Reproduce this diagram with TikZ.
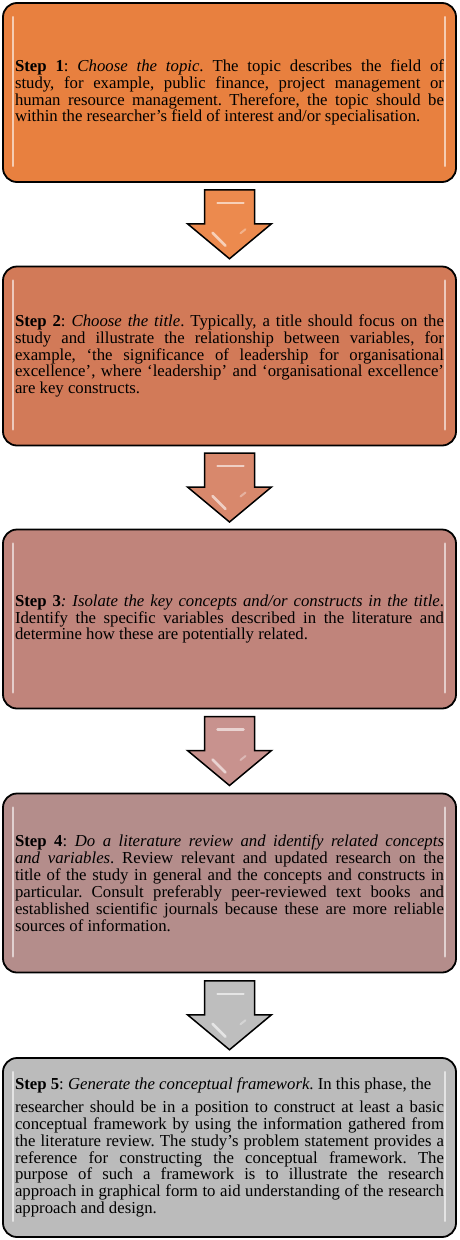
\documentclass[tikz,border=0pt]{standalone}
\usepackage{fontspec}
\setmainfont{Liberation Serif}
\usetikzlibrary{calc}
\definecolor{box1}{HTML}{E8803F}
\definecolor{box2}{HTML}{D27A58}
\definecolor{box3}{HTML}{C0847B}
\definecolor{box4}{HTML}{B48D8B}
\definecolor{box5}{HTML}{BBBBBB}
\definecolor{arr1}{HTML}{EC8A4E}
\definecolor{arr2}{HTML}{D8886C}
\definecolor{arr3}{HTML}{C8928E}
\definecolor{arr4}{HTML}{BEBEBE}
\newcommand\mystepfont{\fontsize{16.75}{16.9}\selectfont\frenchspacing
  \hyphenpenalty=10000 \exhyphenpenalty=10000 \tolerance=10000 \emergencystretch=20pt }
\tikzset{
  stepbox/.style={draw=black, line width=1.8pt, rounded corners=14pt,
    minimum width=453pt, minimum height=179pt, text width=429pt,
    align=justify, inner sep=0pt, font=\mystepfont},
  gloss/.style={white, opacity=0.6, line width=2.5pt, line cap=round},
  bigarrow/.pic={
    \draw[line width=1.5pt, fill=#1, line join=miter]
      (-25,-34.5) -- (25,-34.5) -- (25,-0.5) -- (42,-0.5) -- (0,34.5)
      -- (-42,-0.5) -- (-25,-0.5) -- cycle;
    \draw[white, opacity=0.6, line width=2.5pt, line cap=round] (-12,-21.5) -- (14,-21.5);
    \draw[white, opacity=0.6, line width=2.5pt, line cap=round] (-17,8.5) -- (-4,21.5);
    \draw[white, opacity=0.35, line width=2pt, line cap=round] (11,9) -- (16,5);
  }
}
\begin{document}
\begin{tikzpicture}[x=1pt,y=-1pt]
\useasboundingbox (0,0) rectangle (459,1240);
\fill[white] (0,0) rectangle (459,1240);

\node[stepbox, fill=box1] (s1) at (229.5,92.5) {\textbf{Step 1}: \textit{Choose the topic}. The topic describes the field of\linebreak study, for example, public finance, project management or\linebreak human resource management. Therefore, the topic should be\linebreak within the researcher’s field of interest and/or specialisation.};

\node[stepbox, fill=box2] (s2) at (229.5,356) {\textbf{Step 2}: \textit{Choose the title}. Typically, a title should focus on the\linebreak study and illustrate the relationship between variables, for\linebreak example, ‘the significance of leadership for organisational\linebreak excellence’, where ‘leadership’ and ‘organisational excellence’\linebreak are key constructs.};

\node[stepbox, fill=box3] (s3) at (229.5,619) {\textbf{Step 3}\textit{: Isolate the key concepts and/or constructs in the title}.\linebreak Identify the specific variables described in the literature and\linebreak determine how these are potentially related.};

\node[stepbox, fill=box4] (s4) at (229.5,883) {\textbf{Step 4}: \textit{Do a literature review and identify related concepts\linebreak and variables}. Review relevant and updated research on the\linebreak title of the study in general and the concepts and constructs in\linebreak particular. Consult preferably peer-reviewed text books and\linebreak established scientific journals because these are more reliable\linebreak sources of information.};

\node[stepbox, fill=box5] (s5) at (229.5,1147.5) {\mbox{\textbf{Step 5}: \textit{Generate the conceptual framework}. In this phase, the}\\[6pt]researcher should be in a position to construct at least a basic\linebreak conceptual framework by using the information gathered from\linebreak the literature review. The study’s problem statement provides a\linebreak reference for constructing the conceptual framework. The\linebreak purpose of such a framework is to illustrate the research\linebreak approach in graphical form to aid understanding of the research\linebreak approach and design.};

\foreach \s in {s1,s2,s3,s4,s5}{
  \draw[gloss] ($(\s.north west)+(11,15)$) -- ($(\s.south west)+(11,-17)$);
  \draw[gloss] ($(\s.north east)+(-12,15)$) -- ($(\s.south east)+(-12,-17)$);
}

\path ($(s1.south)!0.5!(s2.north)$) pic {bigarrow=arr1};
\path ($(s2.south)!0.5!(s3.north)$) pic {bigarrow=arr2};
\path ($(s3.south)!0.5!(s4.north)$) pic {bigarrow=arr3};
\path ($(s4.south)!0.5!(s5.north)$) pic {bigarrow=arr4};
\end{tikzpicture}
\end{document}
